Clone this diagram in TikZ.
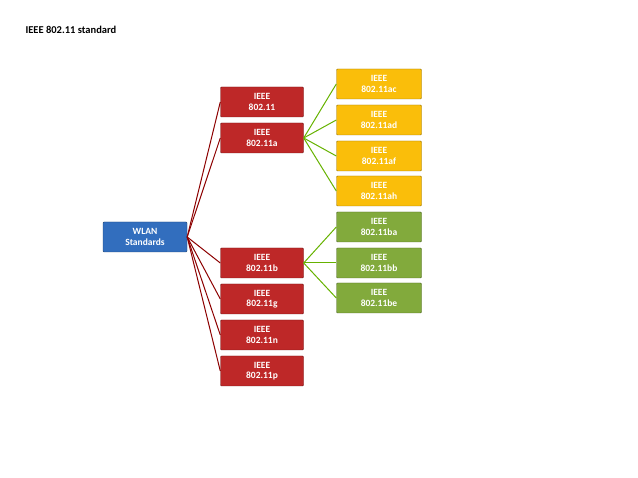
\documentclass[tikz,border=0pt]{standalone}
\usepackage{fontspec}
\setmainfont{Carlito}
\begin{document}
\begin{tikzpicture}[x=1pt,y=-1pt,
 bx/.style={draw=#1!60!black,fill=#1,text=white,minimum width=83pt,minimum height=30pt,inner sep=0pt,align=center,font=\bfseries\fontsize{9.5}{10.5}\selectfont,rounded corners=1pt},
 redl/.style={draw=red!55!black,line width=1pt},
 grl/.style={draw=green!50!black!60!yellow,line width=1pt}]
\definecolor{cblue}{RGB}{50,110,190}
\definecolor{cred}{RGB}{190,40,40}
\definecolor{cyel}{RGB}{250,190,10}
\definecolor{cgrn}{RGB}{130,170,60}
\useasboundingbox (0,0) rectangle (638,478);
\node[anchor=west,font=\bfseries\fontsize{10.5}{12}\selectfont] (t) at (22,30) {IEEE 802.11 standard};
\node[bx=cblue,minimum width=84pt] (w) at (145,237) {WLAN\\Standards};
\foreach \n/\y/\l in {r0/102/802.11,ra/138/802.11a,rb/263/802.11b,rg/299/802.11g,rn/335/802.11n,rp/371/802.11p}
 \node[bx=cred] (\n) at (262,\y) {IEEE\\\l};
\foreach \n/\y/\l in {yac/84/802.11ac,yad/120/802.11ad,yaf/156/802.11af,yah/191/802.11ah}
 \node[bx=cyel,minimum width=85pt] (\n) at (379,\y) {IEEE\\\l};
\foreach \n/\y/\l in {gba/227/802.11ba,gbb/263/802.11bb,gbe/298/802.11be}
 \node[bx=cgrn,minimum width=85pt] (\n) at (379,\y) {IEEE\\\l};
\foreach \n in {r0,ra,rb,rg,rn,rp} \draw[redl] (w.east) -- (\n.west);
\foreach \n in {yac,yad,yaf,yah} \draw[grl] (ra.east) -- (\n.west);
\foreach \n in {gba,gbb,gbe} \draw[grl] (rb.east) -- (\n.west);
\end{tikzpicture}
\end{document}
